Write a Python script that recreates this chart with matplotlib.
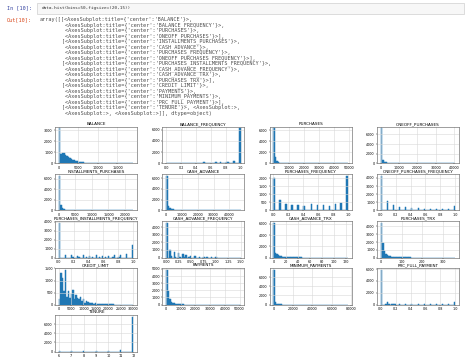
import numpy as np
import matplotlib
matplotlib.use("Agg")
import matplotlib.pyplot as plt
from matplotlib.patches import Rectangle

# ---------------- data ----------------
titles = ["BALANCE", "BALANCE_FREQUENCY", "PURCHASES", "ONEOFF_PURCHASES",
          "INSTALLMENTS_PURCHASES", "CASH_ADVANCE", "PURCHASES_FREQUENCY",
          "ONEOFF_PURCHASES_FREQUENCY", "PURCHASES_INSTALLMENTS_FREQUENCY",
          "CASH_ADVANCE_FREQUENCY", "CASH_ADVANCE_TRX", "PURCHASES_TRX",
          "CREDIT_LIMIT", "PAYMENTS", "MINIMUM_PAYMENTS", "PRC_FULL_PAYMENT",
          "TENURE"]

ranges = [(0, 19043.14), (0, 1), (0, 49039.57), (0, 40761.25),
          (0, 22500), (0, 47137.21), (0, 1), (0, 1),
          (0, 1), (0, 1.5), (0, 123), (0, 358),
          (50, 30000), (0, 50721.48), (0.019, 76406.21), (0, 1),
          (6, 12)]

balance = [3150, 880, 980, 900, 800, 690, 590, 500, 420, 350, 290, 240, 195, 160, 130, 105, 85, 68, 54, 43,
           34, 27, 21, 17, 13, 10, 8, 6, 5, 4, 3, 3, 2, 2, 1, 1, 1, 1, 1, 0,
           1, 0, 0, 0, 1, 0, 0, 0, 0, 1]
balance_freq = [80, 0, 0, 0, 70, 0, 0, 0, 90, 40, 0, 0, 100, 40, 0, 0, 120, 0, 60, 0,
                130, 0, 70, 0, 0, 160, 0, 110, 0, 140, 0, 120, 0, 190, 0, 60, 210, 120, 0, 0,
                250, 190, 0, 120, 0, 480, 0, 0, 0, 6211]
purchases = [6350, 1250, 520, 280, 160, 100, 70, 50, 35, 25, 20, 15, 12, 9, 7, 5, 4, 3, 3, 2,
             2, 1, 1, 1, 1, 1, 1, 0, 1, 0, 0, 1, 0, 0, 0, 0, 0, 0, 0, 0,
             0, 0, 0, 0, 0, 0, 0, 0, 0, 1]
oneoff = [7230, 800, 350, 200, 110, 70, 45, 30, 22, 16, 12, 9, 7, 5, 4, 3, 3, 2, 2, 1,
          1, 1, 1, 1, 0, 1, 0, 0, 0, 1, 0, 0, 0, 0, 0, 0, 0, 0, 0, 0,
          0, 0, 0, 0, 0, 0, 0, 0, 0, 1]
installments = [6600, 1100, 480, 280, 180, 120, 80, 60, 45, 32, 25, 20, 15, 12, 9, 7, 5, 4, 3, 3,
                2, 2, 1, 1, 1, 1, 1, 0, 1, 0, 0, 0, 1, 0, 0, 0, 0, 0, 0, 0,
                0, 0, 0, 0, 0, 0, 0, 0, 0, 1]
cash_advance = [6500, 900, 480, 300, 200, 140, 100, 70, 50, 38, 28, 20, 15, 12, 9, 7, 5, 4, 3, 3,
                2, 2, 1, 1, 1, 1, 0, 1, 0, 0, 0, 1, 0, 0, 0, 0, 0, 0, 0, 0,
                0, 0, 0, 0, 0, 0, 0, 0, 0, 1]
purchases_freq = [2050, 0, 0, 0, 680, 0, 0, 0, 380, 40, 0, 0, 330, 30, 0, 0, 370, 0, 40, 0,
                  300, 0, 60, 0, 0, 400, 0, 40, 0, 330, 0, 40, 0, 320, 0, 0, 60, 300, 0, 0,
                  40, 380, 0, 0, 0, 450, 0, 0, 0, 2180]
oneoff_freq = [4302, 0, 0, 0, 1150, 0, 0, 0, 650, 50, 0, 0, 450, 40, 0, 0, 400, 0, 40, 0,
               280, 0, 40, 0, 0, 300, 0, 30, 0, 230, 0, 30, 0, 200, 0, 0, 30, 180, 0, 0,
               30, 200, 0, 0, 0, 190, 0, 0, 0, 500]
purch_inst_freq = [3890, 0, 0, 0, 250, 0, 0, 0, 280, 40, 0, 0, 220, 40, 0, 0, 230, 0, 40, 0,
                   200, 0, 40, 0, 0, 300, 0, 40, 0, 220, 0, 30, 0, 220, 0, 0, 40, 230, 0, 0,
                   30, 250, 0, 0, 0, 350, 0, 0, 0, 1350]
cash_adv_freq = [4628, 0, 1000, 150, 0, 780, 100, 0, 580, 60, 0, 480, 50, 320, 0, 30, 260, 0, 0, 150,
                 0, 0, 130, 0, 0, 80, 0, 50, 0, 0, 30, 0, 0, 30, 0, 0, 5, 0, 0, 0,
                 3, 0, 0, 0, 0, 0, 0, 0, 0, 1]
cash_adv_trx = [6200, 800, 550, 400, 300, 220, 160, 120, 90, 70, 55, 45, 35, 28, 22, 18, 14, 11, 9, 7,
                6, 5, 4, 3, 3, 2, 2, 2, 1, 1, 1, 1, 1, 1, 0, 1, 0, 0, 0, 0,
                1, 0, 0, 0, 0, 0, 0, 0, 0, 1]
purchases_trx = [4500, 1830, 830, 480, 330, 220, 160, 120, 90, 70, 55, 40, 32, 25, 20, 16, 12, 10, 8, 6,
                 5, 4, 3, 3, 2, 2, 2, 1, 1, 1, 1, 1, 0, 1, 0, 1, 0, 0, 0, 0,
                 1, 0, 0, 0, 0, 0, 0, 0, 0, 1]
credit_limit = [250, 1300, 1100, 550, 1450, 300, 550, 280, 450, 600, 250, 420, 280, 250, 300, 150, 250, 80, 130, 100,
                60, 70, 50, 40, 70, 40, 30, 25, 20, 25, 15, 10, 10, 12, 8, 6, 6, 5, 4, 3,
                4, 2, 2, 2, 1, 1, 1, 0, 1, 2]
payments = [4900, 1900, 800, 430, 260, 170, 110, 80, 55, 40, 30, 22, 17, 13, 10, 8, 6, 5, 4, 3,
            3, 2, 2, 1, 1, 1, 1, 1, 0, 1, 0, 1, 0, 0, 1, 0, 0, 0, 0, 0,
            0, 0, 0, 0, 0, 0, 0, 0, 0, 1]
min_payments = [7600, 600, 200, 90, 50, 30, 20, 12, 8, 6, 4, 3, 2, 2, 1, 1, 1, 1, 1, 0,
                1, 0, 0, 1, 0, 0, 0, 0, 0, 0, 0, 0, 0, 0, 0, 0, 0, 0, 0, 0,
                0, 0, 0, 0, 0, 0, 0, 0, 0, 1]
prc_full = [5903, 0, 0, 30, 450, 60, 0, 30, 180, 40, 0, 20, 150, 20, 0, 20, 120, 0, 20, 0,
            100, 0, 20, 0, 0, 110, 0, 20, 0, 90, 0, 20, 0, 100, 0, 0, 20, 90, 0, 0,
            20, 100, 0, 0, 20, 130, 0, 0, 0, 490]
tenure = [204, 0, 0, 0, 0, 0, 0, 0, 190, 0, 0, 0, 0, 0, 0, 0, 196, 0, 0, 0,
          0, 0, 0, 0, 0, 175, 0, 0, 0, 0, 0, 0, 0, 236, 0, 0, 0, 0, 0, 0,
          0, 365, 0, 0, 0, 0, 0, 0, 0, 7584]

counts = [balance, balance_freq, purchases, oneoff, installments, cash_advance,
          purchases_freq, oneoff_freq, purch_inst_freq, cash_adv_freq, cash_adv_trx,
          purchases_trx, credit_limit, payments, min_payments, prc_full, tenure]

frac = [0, 0.2, 0.4, 0.6, 0.8, 1.0]
xticks = [[0, 5000, 10000, 15000], frac, [0, 10000, 20000, 30000, 40000, 50000],
          [0, 10000, 20000, 30000, 40000], [0, 5000, 10000, 15000, 20000],
          [0, 10000, 20000, 30000, 40000], frac, frac, frac,
          [0, 0.25, 0.5, 0.75, 1.0, 1.25, 1.5], [0, 20, 40, 60, 80, 100, 120],
          [0, 100, 200, 300], [0, 5000, 10000, 15000, 20000, 25000, 30000],
          [0, 10000, 20000, 30000, 40000, 50000], [0, 20000, 40000, 60000, 80000],
          frac, [6, 7, 8, 9, 10, 11, 12]]
y2k = [0, 2000, 4000, 6000]
y1k4 = [0, 1000, 2000, 3000, 4000]
yticks = [[0, 1000, 2000, 3000], y2k, y2k, y2k, y2k, y2k, [0, 500, 1000, 1500, 2000],
          y1k4, y1k4, y1k4, y2k, y1k4, [0, 500, 1000, 1500],
          [0, 1000, 2000, 3000, 4000, 5000], y2k, y2k, y2k]

input_code = "data.hist(bins=50,figsize=(20,15))"
output_lines = [
    "array([[<AxesSubplot:title={'center':'BALANCE'}>,",
    "        <AxesSubplot:title={'center':'BALANCE_FREQUENCY'}>,",
    "        <AxesSubplot:title={'center':'PURCHASES'}>,",
    "        <AxesSubplot:title={'center':'ONEOFF_PURCHASES'}>],",
    "       [<AxesSubplot:title={'center':'INSTALLMENTS_PURCHASES'}>,",
    "        <AxesSubplot:title={'center':'CASH_ADVANCE'}>,",
    "        <AxesSubplot:title={'center':'PURCHASES_FREQUENCY'}>,",
    "        <AxesSubplot:title={'center':'ONEOFF_PURCHASES_FREQUENCY'}>],",
    "       [<AxesSubplot:title={'center':'PURCHASES_INSTALLMENTS_FREQUENCY'}>,",
    "        <AxesSubplot:title={'center':'CASH_ADVANCE_FREQUENCY'}>,",
    "        <AxesSubplot:title={'center':'CASH_ADVANCE_TRX'}>,",
    "        <AxesSubplot:title={'center':'PURCHASES_TRX'}>],",
    "       [<AxesSubplot:title={'center':'CREDIT_LIMIT'}>,",
    "        <AxesSubplot:title={'center':'PAYMENTS'}>,",
    "        <AxesSubplot:title={'center':'MINIMUM_PAYMENTS'}>,",
    "        <AxesSubplot:title={'center':'PRC_FULL_PAYMENT'}>],",
    "       [<AxesSubplot:title={'center':'TENURE'}>, <AxesSubplot:>,",
    "        <AxesSubplot:>, <AxesSubplot:>]], dtype=object)",
]

# ---------------- figure ----------------
W, H = 474, 359
fig = plt.figure(figsize=(W / 100, H / 100), dpi=100)
fig.patch.set_facecolor("white")


def fx(x):
    return x / W


def fy(y):
    return 1 - y / H


mono = "DejaVu Sans Mono"
code_fs = 3.7

# input cell
fig.patches.append(Rectangle((fx(37), fy(14)), fx(464) - fx(37), fy(3) - fy(14),
                             transform=fig.transFigure, facecolor="#f7f7f7",
                             edgecolor="#cfcfcf", lw=0.5))
fig.text(fx(7), fy(8.3), "In [10]:", family=mono, fontsize=code_fs, color="#303F9F", va="center")
fig.text(fx(42), fy(8.3), input_code, family=mono, fontsize=3.2, color="#333333", va="center")

# output
fig.text(fx(7), fy(19.5), "Out[10]:", family=mono, fontsize=code_fs, color="#D84315", va="center")
for i, line in enumerate(output_lines):
    fig.text(fx(40), fy(19.5 + 5.5 * i), line, family=mono, fontsize=code_fs,
             color="#4a4a4a", va="center")

# histogram grid
gs = fig.add_gridspec(5, 4, left=fx(55), right=fx(459), top=fy(126.7), bottom=fy(351.7),
                      wspace=0.309, hspace=0.283)

for i, (title, (lo, hi), c) in enumerate(zip(titles, ranges, counts)):
    ax = fig.add_subplot(gs[i // 4, i % 4])
    edges = np.linspace(lo, hi, len(c) + 1)
    ax.hist(edges[:-1], bins=edges, weights=c, color="#1f77b4",
            edgecolor="#1f77b4", linewidth=0.35)
    ax.set_title(title, fontsize=3.0, pad=1.2)
    ax.grid(True, color="#d8d8d8", lw=0.4)
    ax.set_xticks(xticks[i])
    ax.set_yticks(yticks[i])
    ax.tick_params(labelsize=2.4, length=0.9, width=0.3, pad=0.8)
    for s in ax.spines.values():
        s.set_linewidth(0.4)
        s.set_color("#555555")

fig.savefig("out.png", dpi=100)
